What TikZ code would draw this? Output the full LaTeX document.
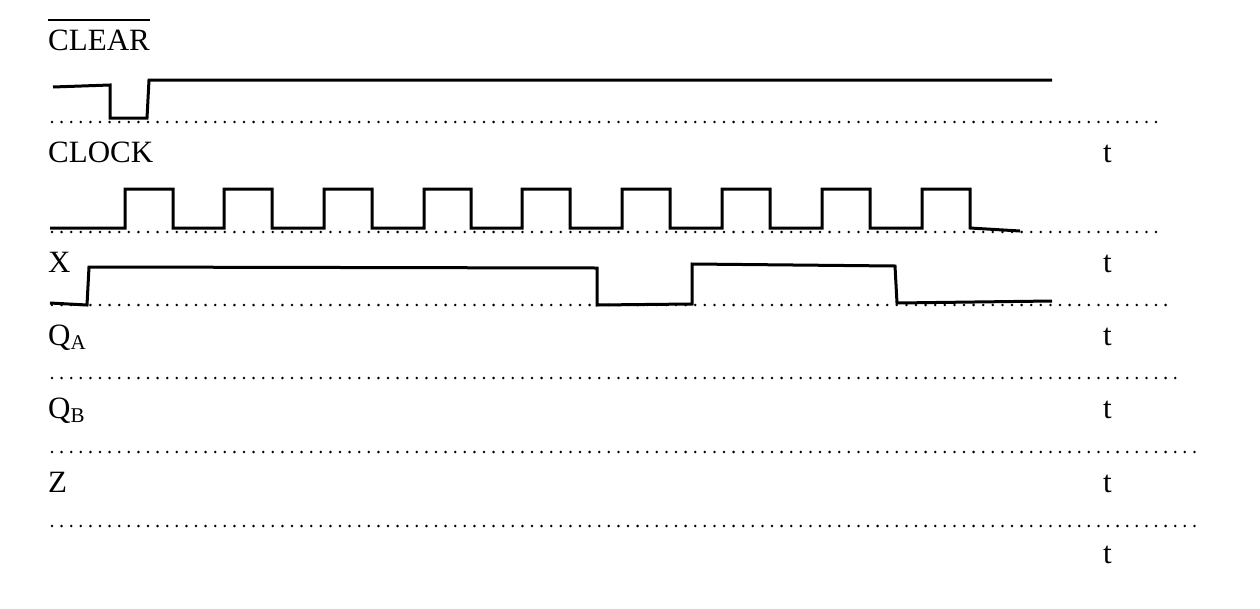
\documentclass[tikz,border=0pt]{standalone}
\usepackage{fontspec}
\setmainfont{Liberation Serif}
\begin{document}
\begin{tikzpicture}[x=1pt,y=-1pt,
  lbl/.style={anchor=base west,inner sep=0pt,font=\fontsize{31}{34}\selectfont},
  dots/.style={line width=2.8pt,dash pattern=on 0pt off 9.6pt,line cap=round},
  wave/.style={line width=3pt,line join=miter}]
\useasboundingbox (0,0) rectangle (1260,608);
\node[lbl] (clr) at (48,50) {CLEAR};
\draw[line width=1.5pt] (clr.west|-0,20) -- (clr.east|-0,20);
\node[lbl] (clk) at (48,162) {CLOCK};
\node[lbl] (x) at (48,272) {X};
\node[lbl] (qa) at (48,345) {Q\raisebox{-0.15em}{\fontsize{21}{22}\selectfont A}};
\node[lbl] (qb) at (48,418) {Q\raisebox{-0.15em}{\fontsize{21}{22}\selectfont B}};
\node[lbl] (z) at (48,492) {Z};
\foreach \y/\n in {162/1,272/2,345/3,418/4,492/5,563/6}
  \node[lbl] (t\n) at (1103,\y) {t};
\draw[dots] (52,122) -- (1165,122);
\draw[dots] (52,232) -- (1165,232);
\draw[dots] (52,305) -- (1175,305);
\draw[dots] (52,378) -- (1180,378);
\draw[dots] (52,452) -- (1195,452);
\draw[dots] (52,526) -- (1195,526);
\draw[wave] (53,87) -- (110,85) -- (110,118) -- (147,118) -- (149,80) -- (1052,80);
\draw[wave] (50,228) -- (125,228)
  \foreach \r/\f in {125/173,224/272,324/372,424/471,522/570,622/670,722/770,822/870,922/970}
  { -- (\r,228) -- (\r,189) -- (\f,189) -- (\f,228) } -- (1020,231);
\draw[wave] (50,303) -- (87,305) -- (89,267) -- (597,268) -- (597,305) -- (692,304) -- (692,264) -- (895,266) -- (897,303) -- (1052,301);
\end{tikzpicture}
\end{document}
